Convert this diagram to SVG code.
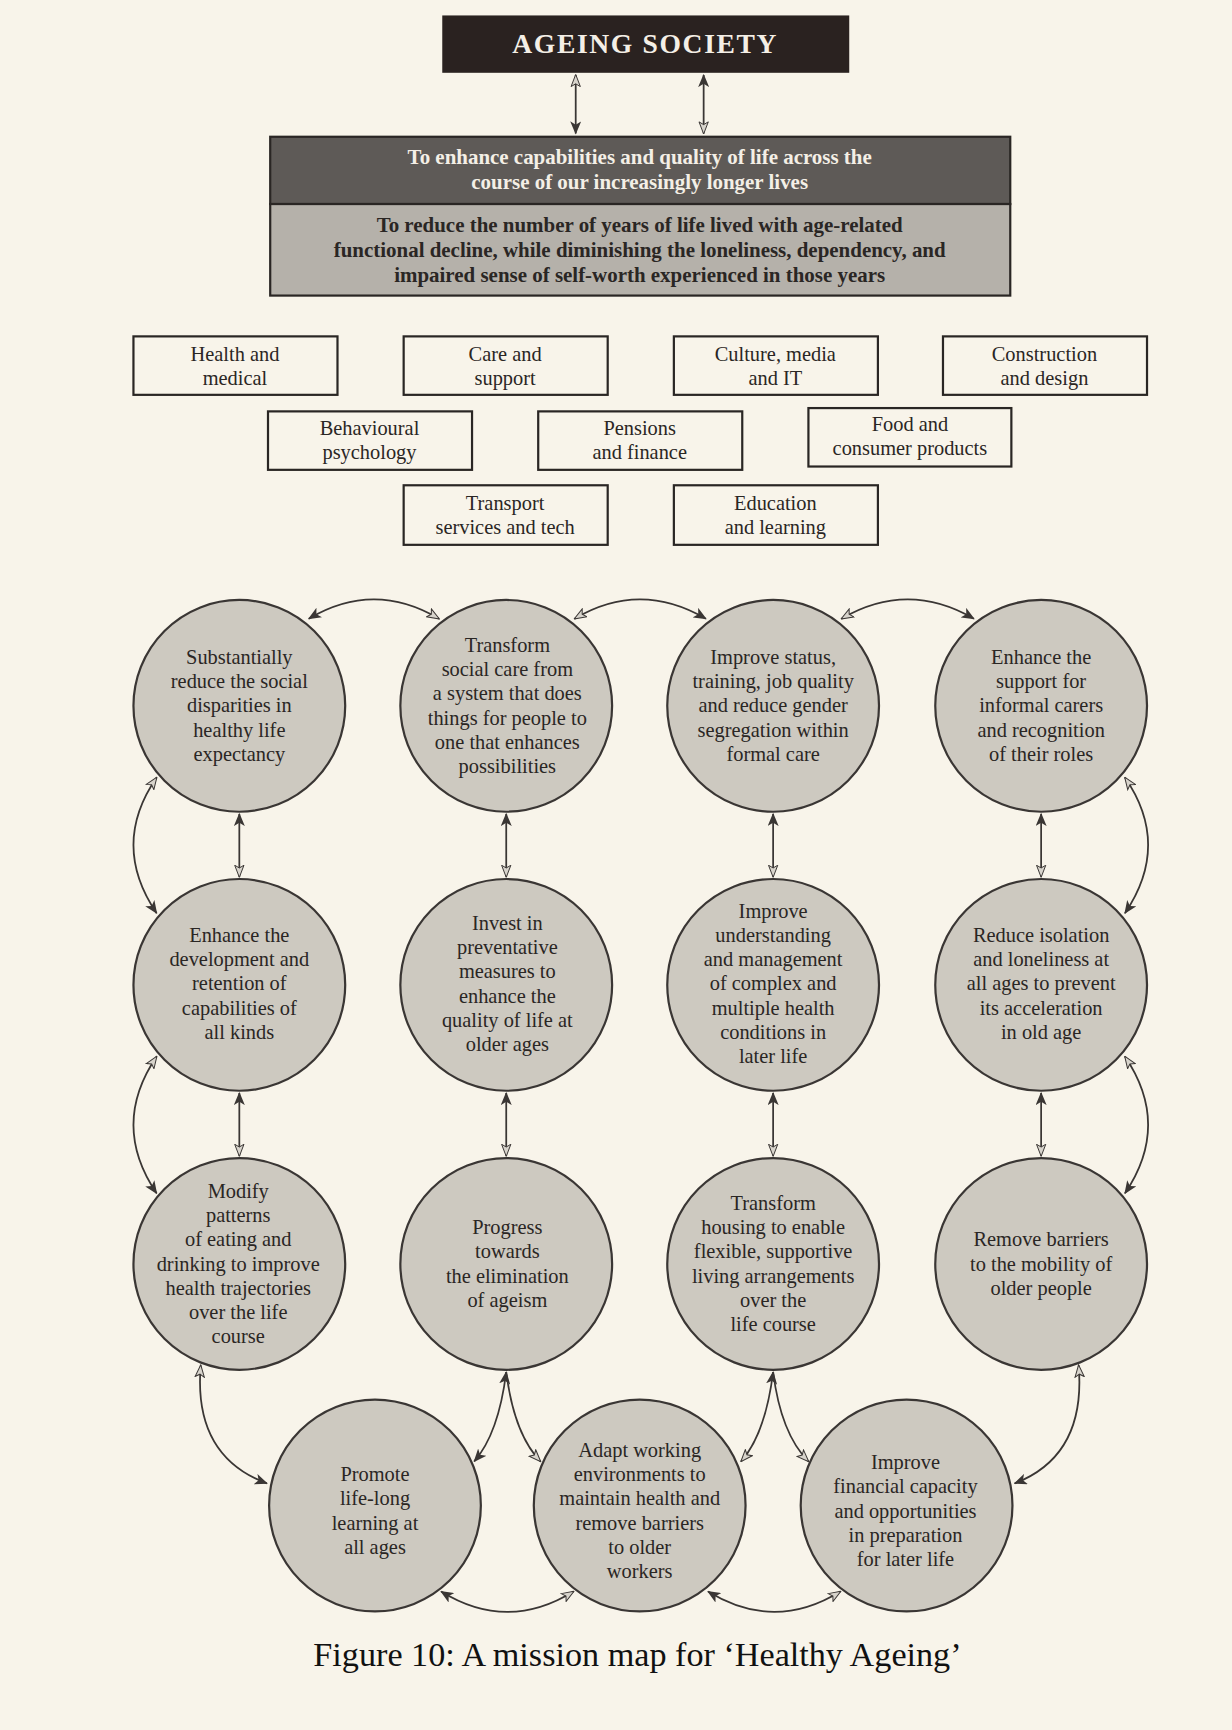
<svg xmlns="http://www.w3.org/2000/svg" width="1232" height="1730" viewBox="0 0 1232 1730">
<style>
text{font-family:"Liberation Serif",serif;fill:#2a2624;text-anchor:middle}
.c{font-size:18.5px}
.b{font-size:18.5px}
.n{fill:#cdc9c0;stroke:#3a3634;stroke-width:2}
.bx{fill:#f8f4ea;stroke:#2a2624;stroke-width:2}
.l{fill:none;stroke:#3a3634;stroke-width:1.6}
</style>
<defs>
<marker id="d" viewBox="0 0 12 10" refX="11" refY="5" markerWidth="12" markerHeight="10" markerUnits="userSpaceOnUse" orient="auto-start-reverse"><path d="M0,0L12,5L0,10L3,5Z" fill="#3a3634"/></marker>
<marker id="o" viewBox="0 0 12 10" refX="11" refY="5" markerWidth="12" markerHeight="10" markerUnits="userSpaceOnUse" orient="auto-start-reverse"><path d="M0.5,0.8L11.5,5L0.5,9.2L3,5Z" fill="#d8d4cc" stroke="#3a3634" stroke-width="0.9"/></marker>
</defs>
<rect width="1232" height="1730" fill="#f8f4ea"/>
<g transform="scale(1.1029)">
<g id="ageing"><rect x="401" y="14" width="369" height="52" fill="#2a2220"/><text x="585" y="48" style="font-size:25px;font-weight:bold;fill:#f4efe6;letter-spacing:1.5px">AGEING SOCIETY</text></g>
<g id="goals">
<rect x="245" y="124" width="671" height="61" fill="#5e5a57" stroke="#2a2624" stroke-width="2"/>
<rect x="245" y="185" width="671" height="83" fill="#b5b1aa" stroke="#2a2624" stroke-width="2"/>
<text x="580" y="149" style="font-size:19px;font-weight:bold;fill:#f4efe6">To enhance capabilities and quality of life across the</text>
<text x="580" y="171" style="font-size:19px;font-weight:bold;fill:#f4efe6">course of our increasingly longer lives</text>
<text x="580" y="210" style="font-size:19px;font-weight:bold">To reduce the number of years of life lived with age-related</text>
<text x="580" y="233" style="font-size:19px;font-weight:bold">functional decline, while diminishing the loneliness, dependency, and</text>
<text x="580" y="256" style="font-size:19px;font-weight:bold">impaired sense of self-worth experienced in those years</text>
</g>
<g id="sectors" class="b">
<rect class="bx" x="121" y="305" width="185" height="53"/><text x="213" y="327">Health and</text><text x="213" y="349">medical</text>
<rect class="bx" x="366" y="305" width="185" height="53"/><text x="458" y="327">Care and</text><text x="458" y="349">support</text>
<rect class="bx" x="611" y="305" width="185" height="53"/><text x="703" y="327">Culture, media</text><text x="703" y="349">and IT</text>
<rect class="bx" x="855" y="305" width="185" height="53"/><text x="947" y="327">Construction</text><text x="947" y="349">and design</text>
<rect class="bx" x="243" y="373" width="185" height="53"/><text x="335" y="394">Behavioural</text><text x="335" y="416">psychology</text>
<rect class="bx" x="488" y="373" width="185" height="53"/><text x="580" y="394">Pensions</text><text x="580" y="416">and finance</text>
<rect class="bx" x="733" y="370" width="184" height="53"/><text x="825" y="391">Food and</text><text x="825" y="413">consumer products</text>
<rect class="bx" x="366" y="440" width="185" height="54"/><text x="458" y="462">Transport</text><text x="458" y="484">services and tech</text>
<rect class="bx" x="611" y="440" width="185" height="54"/><text x="703" y="462">Education</text><text x="703" y="484">and learning</text>
</g>
<g id="connectors" class="l">
<path d="M522,68V121" marker-start="url(#o)" marker-end="url(#d)"/>
<path d="M638,68V121" marker-start="url(#d)" marker-end="url(#o)"/>
<path d="M280,561Q339,526 398,561" marker-start="url(#d)" marker-end="url(#o)"/>
<path d="M521,561Q580,526 640,561" marker-start="url(#o)" marker-end="url(#d)"/>
<path d="M763,561Q823,526 883,561" marker-start="url(#o)" marker-end="url(#d)"/>
<path d="M217,738V795" marker-start="url(#d)" marker-end="url(#o)"/>
<path d="M459,738V795" marker-start="url(#d)" marker-end="url(#o)"/>
<path d="M701,738V795" marker-start="url(#d)" marker-end="url(#o)"/>
<path d="M944,738V795" marker-start="url(#d)" marker-end="url(#o)"/>
<path d="M217,991V1048" marker-start="url(#d)" marker-end="url(#o)"/>
<path d="M459,991V1048" marker-start="url(#d)" marker-end="url(#o)"/>
<path d="M701,991V1048" marker-start="url(#d)" marker-end="url(#o)"/>
<path d="M944,991V1048" marker-start="url(#d)" marker-end="url(#o)"/>
<path d="M142,705Q100,766 142,828" marker-start="url(#o)" marker-end="url(#d)"/>
<path d="M142,958Q100,1020 142,1082" marker-start="url(#o)" marker-end="url(#d)"/>
<path d="M1020,705Q1062,766 1020,828" marker-start="url(#o)" marker-end="url(#d)"/>
<path d="M1020,958Q1062,1020 1020,1082" marker-start="url(#o)" marker-end="url(#d)"/>
<path d="M182,1238Q175,1320 242,1345" marker-start="url(#o)" marker-end="url(#d)"/>
<path d="M978,1238Q985,1320 920,1345" marker-start="url(#o)" marker-end="url(#d)"/>
<path d="M459,1244Q452,1300 430,1325" marker-start="url(#d)" marker-end="url(#d)"/>
<path d="M459,1244Q466,1300 490,1325" marker-end="url(#o)"/>
<path d="M701,1244Q694,1300 672,1325" marker-start="url(#d)" marker-end="url(#o)"/>
<path d="M701,1244Q708,1300 733,1325" marker-end="url(#o)"/>
<path d="M400,1443Q460,1480 520,1443" marker-start="url(#d)" marker-end="url(#o)"/>
<path d="M642,1443Q702,1480 762,1443" marker-start="url(#d)" marker-end="url(#o)"/>
</g>
<g id="n1" class="c"><circle class="n" cx="217" cy="640" r="96"/><text x="217" y="602">Substantially</text><text x="217" y="624">reduce the social</text><text x="217" y="646">disparities in</text><text x="217" y="668">healthy life</text><text x="217" y="690">expectancy</text></g>
<g id="n2" class="c"><circle class="n" cx="459" cy="640" r="96"/><text x="460" y="591">Transform</text><text x="460" y="613">social care from</text><text x="460" y="635">a system that does</text><text x="460" y="657">things for people to</text><text x="460" y="679">one that enhances</text><text x="460" y="701">possibilities</text></g>
<g id="n3" class="c"><circle class="n" cx="701" cy="640" r="96"/><text x="701" y="602">Improve status,</text><text x="701" y="624">training, job quality</text><text x="701" y="646">and reduce gender</text><text x="701" y="668">segregation within</text><text x="701" y="690">formal care</text></g>
<g id="n4" class="c"><circle class="n" cx="944" cy="640" r="96"/><text x="944" y="602">Enhance the</text><text x="944" y="624">support for</text><text x="944" y="646">informal carers</text><text x="944" y="668">and recognition</text><text x="944" y="690">of their roles</text></g>
<g id="n5" class="c"><circle class="n" cx="217" cy="893" r="96"/><text x="217" y="854">Enhance the</text><text x="217" y="876">development and</text><text x="217" y="898">retention of</text><text x="217" y="920">capabilities of</text><text x="217" y="942">all kinds</text></g>
<g id="n6" class="c"><circle class="n" cx="459" cy="893" r="96"/><text x="460" y="843">Invest in</text><text x="460" y="865">preventative</text><text x="460" y="887">measures to</text><text x="460" y="909">enhance the</text><text x="460" y="931">quality of life at</text><text x="460" y="953">older ages</text></g>
<g id="n7" class="c"><circle class="n" cx="701" cy="893" r="96"/><text x="701" y="832">Improve</text><text x="701" y="854">understanding</text><text x="701" y="876">and management</text><text x="701" y="898">of complex and</text><text x="701" y="920">multiple health</text><text x="701" y="942">conditions in</text><text x="701" y="964">later life</text></g>
<g id="n8" class="c"><circle class="n" cx="944" cy="893" r="96"/><text x="944" y="854">Reduce isolation</text><text x="944" y="876">and loneliness at</text><text x="944" y="898">all ages to prevent</text><text x="944" y="920">its acceleration</text><text x="944" y="942">in old age</text></g>
<g id="n9" class="c"><circle class="n" cx="217" cy="1146" r="96"/><text x="216" y="1086">Modify</text><text x="216" y="1108">patterns</text><text x="216" y="1130">of eating and</text><text x="216" y="1152">drinking to improve</text><text x="216" y="1174">health trajectories</text><text x="216" y="1196">over the life</text><text x="216" y="1218">course</text></g>
<g id="n10" class="c"><circle class="n" cx="459" cy="1146" r="96"/><text x="460" y="1119">Progress</text><text x="460" y="1141">towards</text><text x="460" y="1163">the elimination</text><text x="460" y="1185">of ageism</text></g>
<g id="n11" class="c"><circle class="n" cx="701" cy="1146" r="96"/><text x="701" y="1097">Transform</text><text x="701" y="1119">housing to enable</text><text x="701" y="1141">flexible, supportive</text><text x="701" y="1163">living arrangements</text><text x="701" y="1185">over the</text><text x="701" y="1207">life course</text></g>
<g id="n12" class="c"><circle class="n" cx="944" cy="1146" r="96"/><text x="944" y="1130">Remove barriers</text><text x="944" y="1152">to the mobility of</text><text x="944" y="1174">older people</text></g>
<g id="n13" class="c"><circle class="n" cx="340" cy="1365" r="96"/><text x="340" y="1343">Promote</text><text x="340" y="1365">life-long</text><text x="340" y="1387">learning at</text><text x="340" y="1409">all ages</text></g>
<g id="n14" class="c"><circle class="n" cx="580" cy="1365" r="96"/><text x="580" y="1321">Adapt working</text><text x="580" y="1343">environments to</text><text x="580" y="1365">maintain health and</text><text x="580" y="1387">remove barriers</text><text x="580" y="1409">to older</text><text x="580" y="1431">workers</text></g>
<g id="n15" class="c"><circle class="n" cx="822" cy="1365" r="96"/><text x="821" y="1332">Improve</text><text x="821" y="1354">financial capacity</text><text x="821" y="1376">and opportunities</text><text x="821" y="1398">in preparation</text><text x="821" y="1420">for later life</text></g>
<text x="578" y="1511" style="font-size:31px;fill:#111">Figure 10: A mission map for ‘Healthy Ageing’</text>
</g>
</svg>
